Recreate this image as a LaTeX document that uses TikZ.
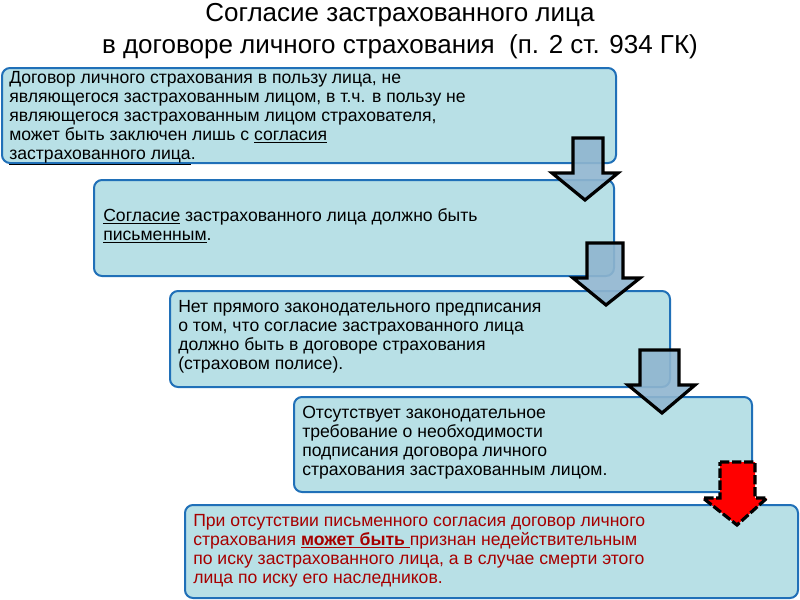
\documentclass[tikz,border=0pt]{standalone}
\usepackage{fontspec}
\setmainfont{Liberation Sans}
\definecolor{boxfill}{HTML}{B8E0E6}
\definecolor{boxline}{HTML}{2070B8}
\definecolor{arrfill}{HTML}{8FB5CF}
\begin{document}
\begin{tikzpicture}[x=0.75pt,y=-0.75pt,
 box/.style={draw=boxline,line width=1.5pt,fill=boxfill,rounded corners=6pt},
 txt/.style={anchor=north west,align=left,font=\fontsize{13.2}{14.2}\selectfont,inner sep=0pt},
 arr/.style={draw=black,line width=2.4pt,fill=arrfill,fill opacity=0.9}]
\useasboundingbox (0,0) rectangle (800,600);
\node[font=\fontsize{19.5}{24}\selectfont,align=center] (title) at (400,31) {Согласие застрахованного лица\\в договоре личного страхования \ (п. 2 ст. 934 ГК)};
\draw[box] (2,68) rectangle (616,163);
\draw[box] (94,180) rectangle (614,276);
\draw[box] (170,291) rectangle (670,387);
\draw[box] (294,397) rectangle (752,492);
\draw[box] (185,505) rectangle (798,598);
\node[txt] (t1) at (9,71) {Договор личного страхования в пользу лица, не\\являющегося застрахованным лицом, в т.ч. в пользу не\\являющегося застрахованным лицом страхователя,\\может быть заключен лишь с \underline{согласия}\\\underline{застрахованного лица}.};
\node[txt] (t2) at (103,208) {\underline{Согласие} застрахованного лица должно быть\\\underline{письменным}.};
\node[txt] (t3) at (178,300) {Нет прямого законодательного предписания\\о том, что согласие застрахованного лица\\должно быть в договоре страхования\\(страховом полисе).};
\node[txt] (t4) at (302,406) {Отсутствует законодательное\\требование о необходимости\\подписания договора личного\\страхования застрахованным лицом.};
\node[txt,text=red!65!black] (t5) at (193,514) {При отсутствии письменного согласия договор личного\\страхования \textbf{\underline{может быть }}признан недействительным\\по иску застрахованного лица, а в случае смерти этого\\лица по иску его наследников.};
\draw[arr] (573,138)--(603,138)--(603,173)--(618,173)--(585,200)--(552,173)--(573,173)--cycle;
\draw[arr] (587,243)--(623,243)--(623,278)--(640,278)--(606,305)--(573,278)--(587,278)--cycle;
\draw[arr] (640,350)--(679,350)--(679,385)--(695,385)--(662,413)--(628,385)--(640,385)--cycle;
\draw[line width=2.4pt,dash pattern=on 7pt off 2pt,fill=red] (720,462)--(755,462)--(755,498)--(767,498)--(737,525)--(703,498)--(720,498)--cycle;
\end{tikzpicture}
\end{document}
